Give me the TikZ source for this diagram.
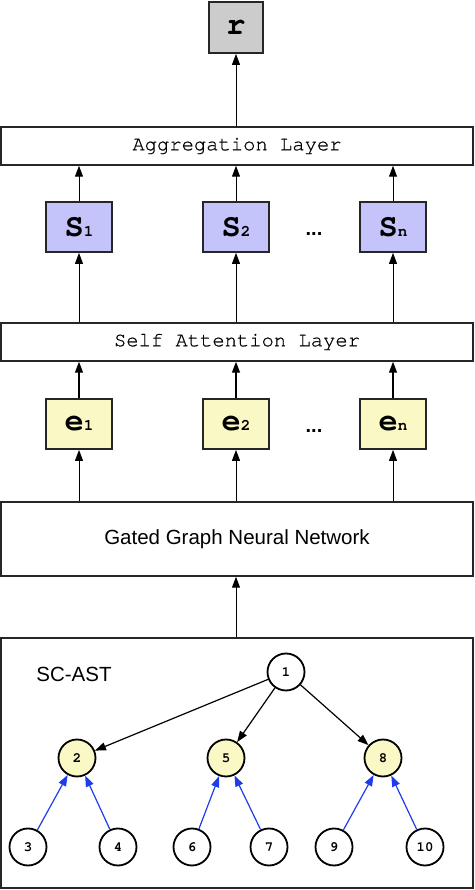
\documentclass[tikz,border=0pt]{standalone}
\usepackage{fontspec}
\setmainfont{Liberation Sans}
\setmonofont{TeX Gyre Cursor}
\newfontfamily\layerfont[FakeBold=0.6]{TeX Gyre Cursor}
\usepackage{xcolor}
\usetikzlibrary{arrows.meta, positioning}
\definecolor{rgray}{RGB}{204,204,204}
\definecolor{sblue}{RGB}{196,196,250}
\definecolor{eyellow}{RGB}{250,248,196}
\definecolor{cblue}{RGB}{30,60,235}
\newcommand{\vsub}[2]{#1{\fontsize{16}{16}\selectfont #2}}
\tikzset{
  layer/.style={draw=black!85, line width=1.5pt, minimum width=472pt, inner sep=0pt},
  vecbox/.style={draw=black!85, line width=1.8pt, minimum width=66pt, minimum height=50pt, inner sep=0pt, font=\ttfamily\bfseries\fontsize{32}{32}\selectfont},
  astnode/.style={circle, draw, line width=1.8pt, minimum size=37pt, inner sep=0pt, fill=white, font=\ttfamily\bfseries\fontsize{14}{14}\selectfont},
  flow/.style={-{Triangle[length=11pt,width=8pt]}, line width=1pt},
  childedge/.style={-{Triangle[length=11pt,width=8pt]}, line width=1.2pt, cblue}
}
\begin{document}
\begin{tikzpicture}[x=1pt, y=1pt]
		\useasboundingbox (0,0) rectangle (474,890);
		% output
		\node[vecbox, fill=rgray, minimum width=54pt, minimum height=51pt] (r) at (236,862.5) {r};
		% layers
		\node[layer, minimum height=38pt, font=\layerfont\fontsize{20.5}{20.5}\selectfont] (agg) at (237,744) {Aggregation Layer};
		\node[layer, minimum height=38pt, font=\layerfont\fontsize{20.5}{20.5}\selectfont] (sa) at (237,548) {Self Attention Layer};
		\node[layer, minimum height=74pt, font=\fontsize{20.5}{20.5}\selectfont] (ggnn) at (237,351) {Gated Graph Neural Network};
		\node[layer, minimum height=250pt] (ast) at (237,127) {};
		\node[font=\fontsize{20.5}{20.5}\selectfont] (astlabel) at (74,216) {SC-AST};
		% vectors
		\foreach \k/\x in {1/79, 2/236, n/393} {
			\node[vecbox, fill=sblue] (s\k) at (\x,663) {\vsub{S}{\k}};
			\node[vecbox, fill=eyellow] (e\k) at (\x,466) {\vsub{e}{\k}};
		}
		\node[font=\bfseries\fontsize{20}{20}\selectfont] (sdots) at (314,656) {...};
		\node[font=\bfseries\fontsize{20}{20}\selectfont] (edots) at (314,459) {...};
		\draw[flow] (r |- agg.north) -- (r);
		\foreach \k in {1,2,n} {
			\draw[flow] (s\k) -- (s\k |- agg.south);
			\draw[flow] (sa.north -| s\k) -- (s\k);
			\draw[flow, line width=1.4pt] (e\k) -- (e\k |- sa.south);
			\draw[flow] (ggnn.north -| e\k) -- (e\k);
		}
		\draw[flow] (ast.north -| r) -- (r |- ggnn.south);
		% tree
		\node[astnode] (n1) at (286,218) {1};
		\node[astnode, fill=eyellow] (n2) at (77,132) {2};
		\node[astnode, fill=eyellow] (n5) at (226,132) {5};
		\node[astnode, fill=eyellow] (n8) at (383,132) {8};
		\node[astnode] (n3) at (28,43) {3};
		\node[astnode] (n4) at (118,43) {4};
		\node[astnode] (n6) at (192,43) {6};
		\node[astnode] (n7) at (269,43) {7};
		\node[astnode] (n9) at (334,43) {9};
		\node[astnode] (n10) at (425,43) {10};
		\draw[flow, line width=1.2pt] (n1) -- (n2);
		\draw[flow, line width=1.2pt] (n1) -- (n5);
		\draw[flow, line width=1.2pt] (n1) -- (n8);
		\draw[childedge] (n3) -- (n2);
		\draw[childedge] (n4) -- (n2);
		\draw[childedge] (n6) -- (n5);
		\draw[childedge] (n7) -- (n5);
		\draw[childedge] (n9) -- (n8);
		\draw[childedge] (n10) -- (n8);
\end{tikzpicture}
\end{document}
